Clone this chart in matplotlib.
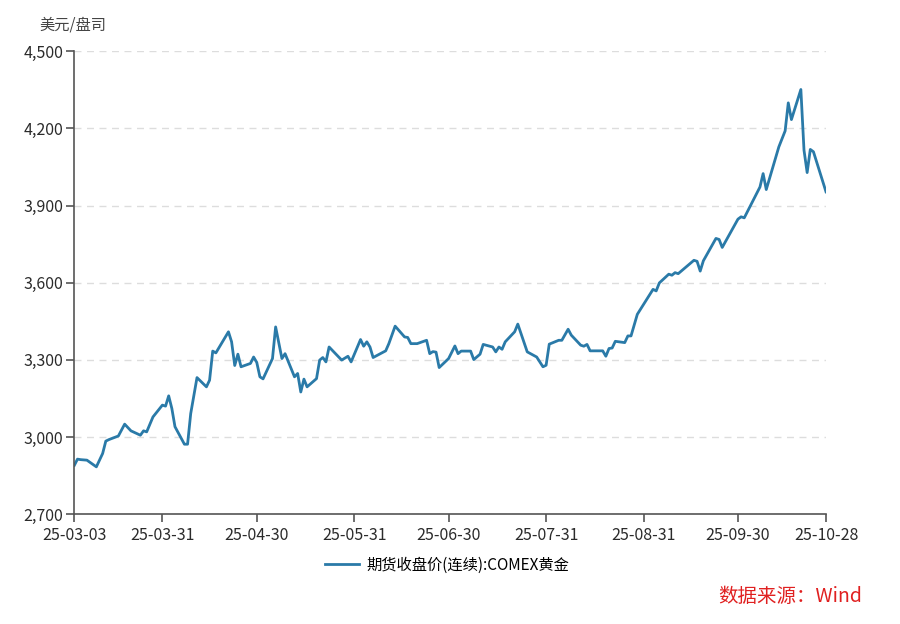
import numpy as np
import pandas as pd
import matplotlib
matplotlib.use('Agg')
from matplotlib import pyplot as plt
import matplotlib.dates as mdates
from matplotlib.ticker import FuncFormatter

plt.rcParams['font.family'] = ['Noto Sans CJK SC', 'DejaVu Sans']

# COMEX gold, continuous futures close (USD/oz)
dates = ['2025-03-03', '2025-03-04', '2025-03-05', '2025-03-07', '2025-03-10', '2025-03-12',
         '2025-03-13', '2025-03-14', '2025-03-17', '2025-03-19', '2025-03-21', '2025-03-24',
         '2025-03-25', '2025-03-26', '2025-03-28', '2025-03-31', '2025-04-01', '2025-04-02',
         '2025-04-03', '2025-04-04', '2025-04-07', '2025-04-08', '2025-04-09', '2025-04-11',
         '2025-04-14', '2025-04-15', '2025-04-16', '2025-04-17', '2025-04-21', '2025-04-22',
         '2025-04-23', '2025-04-24', '2025-04-25', '2025-04-28', '2025-04-29', '2025-04-30',
         '2025-05-01', '2025-05-02', '2025-05-05', '2025-05-06', '2025-05-08', '2025-05-09',
         '2025-05-12', '2025-05-13', '2025-05-14', '2025-05-15', '2025-05-16', '2025-05-19',
         '2025-05-20', '2025-05-21', '2025-05-22', '2025-05-23', '2025-05-27', '2025-05-29',
         '2025-05-30', '2025-06-02', '2025-06-03', '2025-06-04', '2025-06-05', '2025-06-06',
         '2025-06-10', '2025-06-11', '2025-06-13', '2025-06-16', '2025-06-17', '2025-06-18',
         '2025-06-20', '2025-06-23', '2025-06-24', '2025-06-25', '2025-06-26', '2025-06-27',
         '2025-06-30', '2025-07-02', '2025-07-03', '2025-07-04', '2025-07-07', '2025-07-08',
         '2025-07-10', '2025-07-11', '2025-07-14', '2025-07-15', '2025-07-16', '2025-07-17',
         '2025-07-18', '2025-07-21', '2025-07-22', '2025-07-25', '2025-07-28', '2025-07-30',
         '2025-07-31', '2025-08-01', '2025-08-04', '2025-08-05', '2025-08-07', '2025-08-08',
         '2025-08-11', '2025-08-12', '2025-08-13', '2025-08-14', '2025-08-15', '2025-08-18',
         '2025-08-19', '2025-08-20', '2025-08-21', '2025-08-22', '2025-08-25', '2025-08-26',
         '2025-08-27', '2025-08-29', '2025-09-03', '2025-09-04', '2025-09-05', '2025-09-08',
         '2025-09-09', '2025-09-10', '2025-09-11', '2025-09-16', '2025-09-17', '2025-09-18',
         '2025-09-19', '2025-09-23', '2025-09-24', '2025-09-25', '2025-09-30', '2025-10-01',
         '2025-10-02', '2025-10-07', '2025-10-08', '2025-10-09', '2025-10-13', '2025-10-15',
         '2025-10-16', '2025-10-17', '2025-10-20', '2025-10-21', '2025-10-22', '2025-10-23',
         '2025-10-24', '2025-10-28']
prices = [2890, 2914, 2912, 2910, 2884, 2936,
          2984, 2990, 3004, 3050, 3024, 3007,
          3024, 3020, 3078, 3124, 3120, 3160,
          3111, 3040, 2972, 2972, 3091, 3231,
          3195, 3221, 3334, 3327, 3409, 3370,
          3278, 3322, 3273, 3286, 3311, 3290,
          3234, 3226, 3305, 3428, 3305, 3324,
          3234, 3247, 3175, 3225, 3195, 3227,
          3299, 3309, 3292, 3350, 3299, 3314,
          3292, 3379, 3353, 3370, 3350, 3309,
          3335, 3363, 3431, 3389, 3387, 3363,
          3363, 3376, 3324, 3332, 3330, 3270,
          3305, 3354, 3324, 3334, 3334, 3301,
          3322, 3360, 3350, 3331, 3350, 3341,
          3370, 3409, 3439, 3331, 3311, 3273,
          3279, 3361, 3376, 3376, 3419, 3396,
          3357, 3353, 3360, 3335, 3335, 3335,
          3314, 3344, 3346, 3372, 3367, 3393,
          3393, 3477, 3574, 3568, 3599, 3633,
          3629, 3639, 3635, 3687, 3683, 3645,
          3685, 3772, 3768, 3737, 3847, 3856,
          3852, 3972, 4024, 3962, 4128, 4190,
          4299, 4234, 4351, 4115, 4028, 4118,
          4109, 3953]

tick_dates = ['2025-03-03', '2025-03-31', '2025-04-30', '2025-05-31', '2025-06-30',
              '2025-07-31', '2025-08-31', '2025-09-30', '2025-10-28']
y_ticks = [2700, 3000, 3300, 3600, 3900, 4200, 4500]

series_name = '期货收盘价(连续):COMEX黄金'
unit = '美元/盘司'
source = '数据来源：Wind'

x = pd.to_datetime(dates)
xt = pd.to_datetime(tick_dates)

fig = plt.figure(figsize=(9, 6.24), dpi=100)
ax = fig.add_axes([0.0826, 0.176, 0.8352, 0.742])

ax.plot(x, prices, color='#2a7aa8', lw=2.0, label=series_name, solid_joinstyle='round')

ax.set_xlim(xt[0], xt[-1])
ax.set_ylim(2700, 4500)
ax.set_xticks(xt)
ax.xaxis.set_major_formatter(mdates.DateFormatter('%y-%m-%d'))
ax.set_yticks(y_ticks)
ax.yaxis.set_major_formatter(FuncFormatter(lambda v, p: f'{int(v):,}'))

for s in ['top', 'right']:
    ax.spines[s].set_visible(False)
for s in ['left', 'bottom']:
    ax.spines[s].set_color('#555555')
    ax.spines[s].set_linewidth(1.2)
ax.tick_params(axis='both', colors='#555555', length=6, width=1.2, labelsize=11.5,
               labelcolor='#2b2b2b')
ax.tick_params(axis='x', pad=3)
ax.tick_params(axis='y', pad=2)
ax.grid(axis='y', color='#dddddd', ls=(0, (5, 4)), lw=1)
ax.set_axisbelow(True)

fig.text(0.081, 0.96, unit, ha='center', va='center', fontsize=11, color='#444444')

fig.legend(loc='center', bbox_to_anchor=(0.497, 0.094), frameon=False, fontsize=11,
           handlelength=2.2, handletextpad=0.5)
fig.text(0.958, 0.044, source, ha='right', va='center', fontsize=14, color='#e02020')

fig.savefig('out.png', dpi=100)
